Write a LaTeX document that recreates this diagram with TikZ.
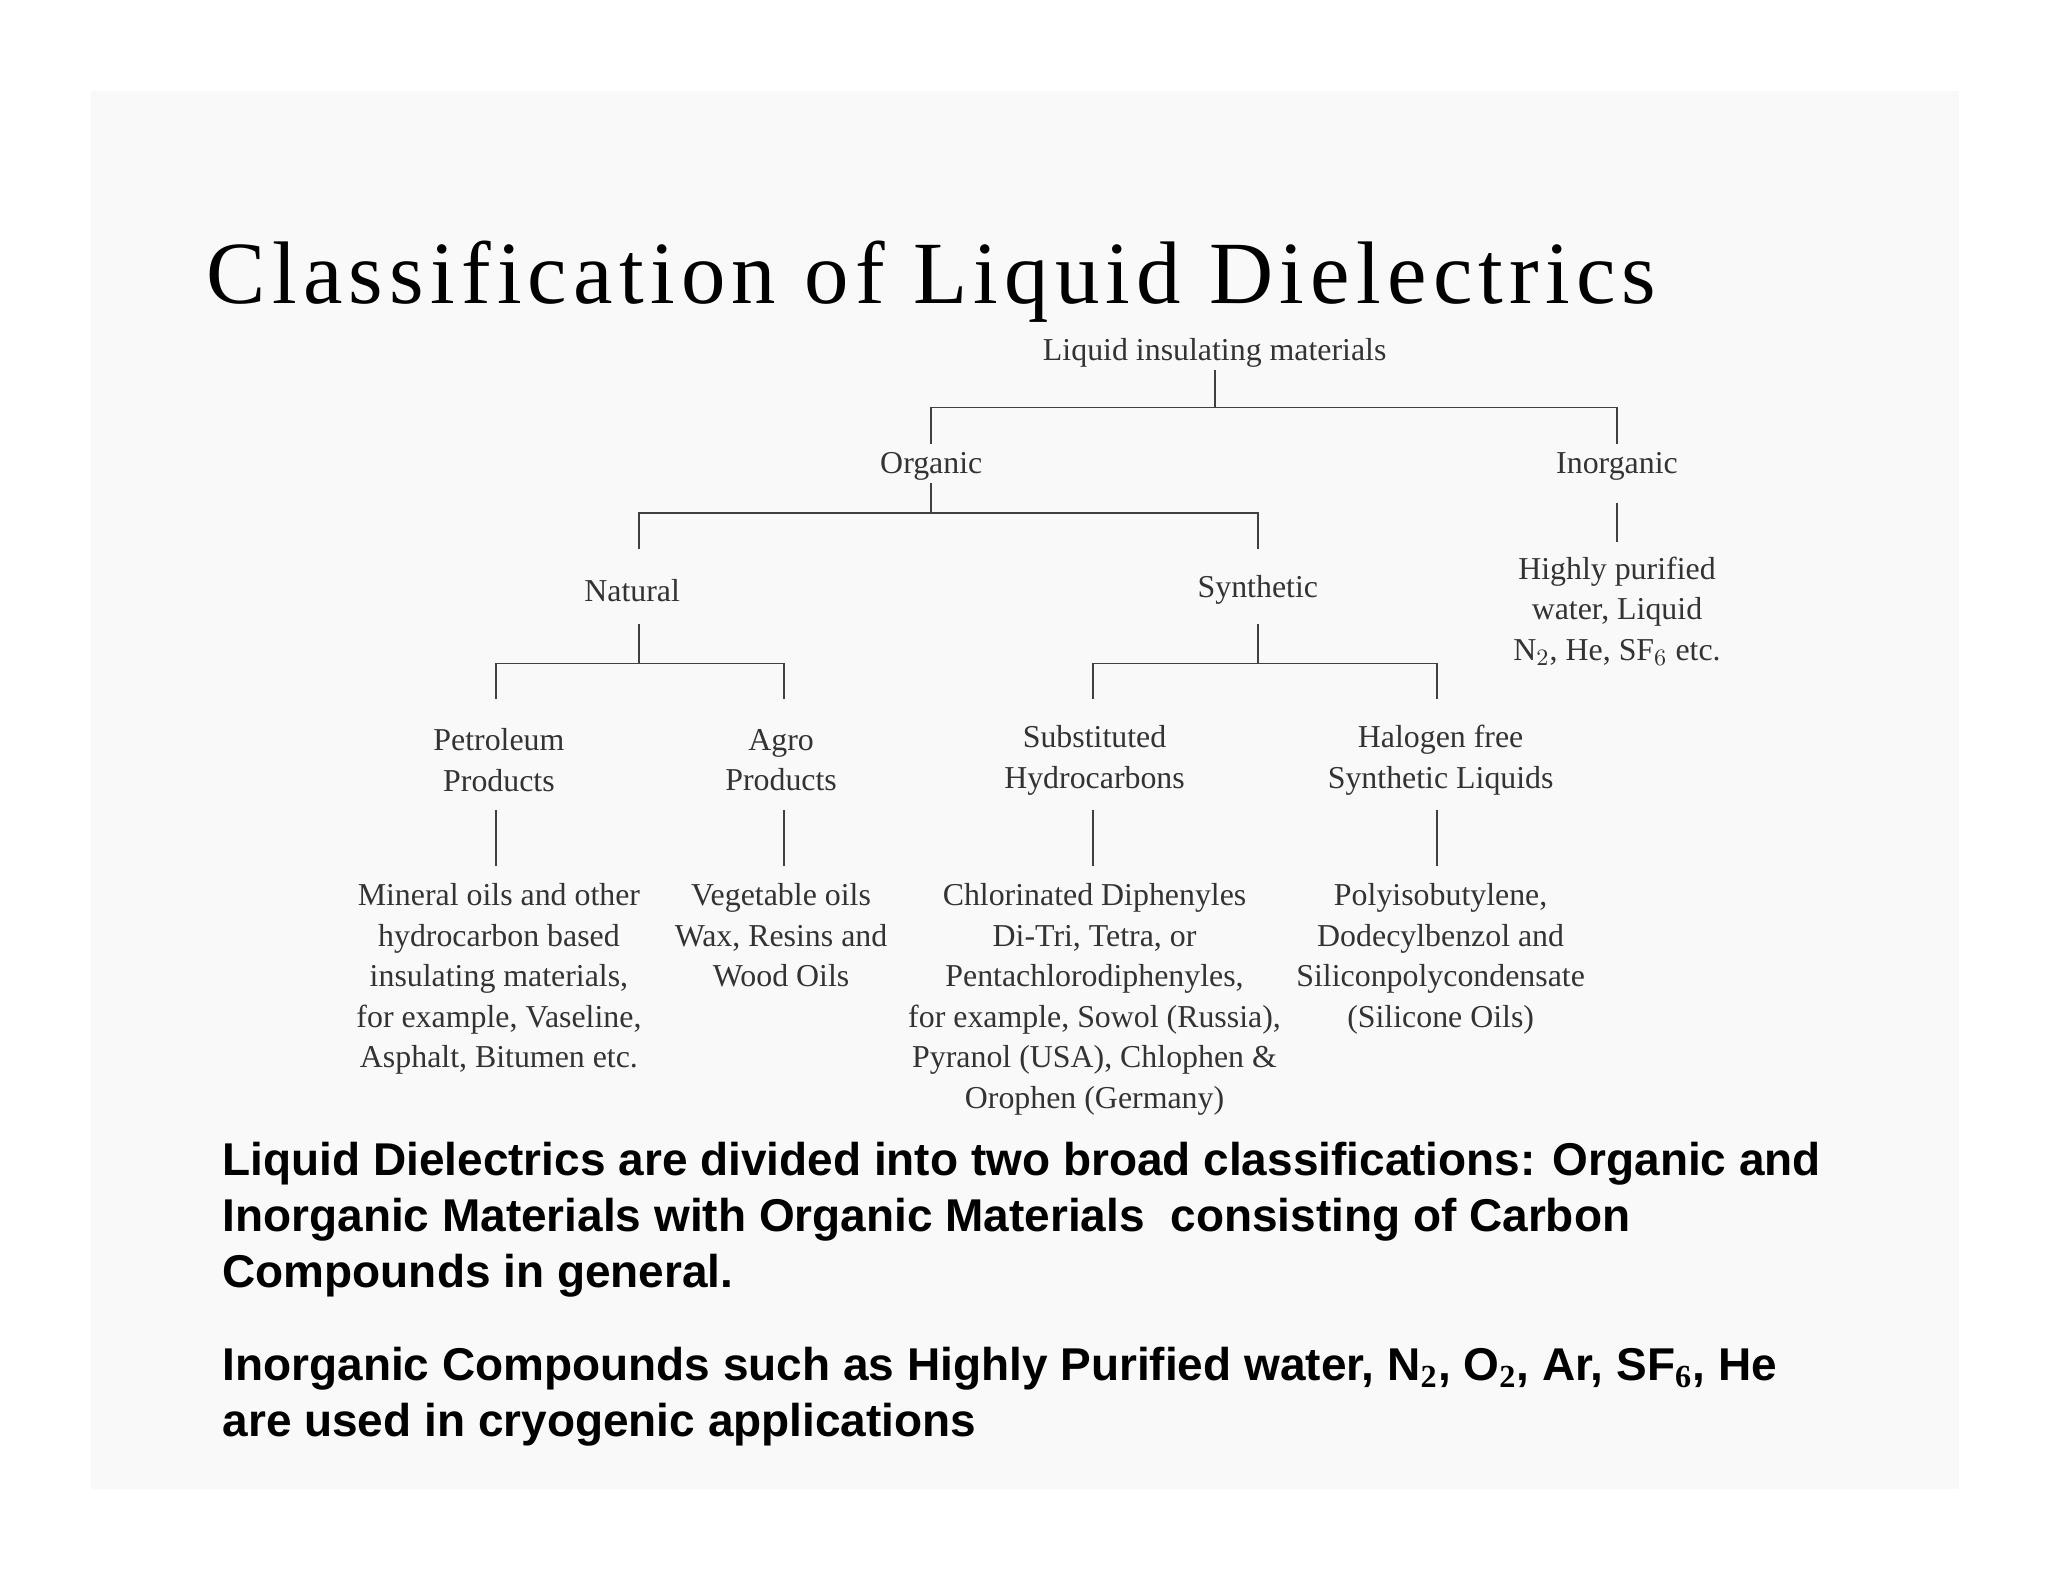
\documentclass[tikz,border=0pt]{standalone}
\usepackage{fontspec}
\setmainfont{Liberation Serif}
\setsansfont{Liberation Sans}
\newfontfamily\titlefont[LetterSpace=7]{Liberation Serif}
\begin{document}
\begin{tikzpicture}[x=0.5pt,y=-0.5pt,
  tn/.style={font=\fontsize{12.2}{15.5}\selectfont, align=center, inner sep=1pt, text=black!80},
  lf/.style={tn, anchor=north},
  ln/.style={draw=black!75, line width=0.7pt},
  body/.style={font=\sffamily\bfseries\fontsize{17.6}{21.5}\selectfont, anchor=north west, align=left, inner sep=0pt}]
\useasboundingbox (0,0) rectangle (1568,1211);
\fill[white] (0,0) rectangle (1568,1211);
\fill[black!2.5] (70,70) rectangle (1500,1140);
\node[font=\titlefont\fontsize{34}{40}\selectfont, anchor=base west, inner sep=0pt] (title) at (158,232) {Classification of Liquid Dielectrics};
\node[tn] (root) at (930,270) {Liquid insulating materials};
\node[tn] (org) at (713,357) {Organic};
\node[tn] (inorg) at (1238,357) {Inorganic};
\node[tn,anchor=north] (inleaf) at (1238,424) {Highly purified\\water, Liquid\\N$_2$, He, SF$_6$ etc.};
\node[tn] (nat) at (484,452) {Natural};
\node[tn] (syn) at (963,452) {Synthetic};
\node[tn] (pet) at (382,582) {Petroleum\\Products};
\node[tn] (agro) at (598,582) {Agro\\Products};
\node[tn] (sub) at (838,582) {Substituted\\Hydrocarbons};
\node[tn] (hal) at (1103,582) {Halogen free\\Synthetic Liquids};
\node[lf] (l1) at (382,674) {Mineral oils and other\\hydrocarbon based\\insulating materials,\\for example, Vaseline,\\Asphalt, Bitumen etc.};
\node[lf] (l2) at (598,674) {Vegetable oils\\Wax, Resins and\\Wood Oils};
\node[lf] (l3) at (838,674) {Chlorinated Diphenyles\\Di-Tri, Tetra, or\\Pentachlorodiphenyles,\\for example, Sowol (Russia),\\Pyranol (USA), Chlophen \&\\Orophen (Germany)};
\node[lf] (l4) at (1103,674) {Polyisobutylene,\\Dodecylbenzol and\\Siliconpolycondensate\\(Silicone Oils)};
% connectors
\coordinate (b1) at (0,312);
\draw[ln] (root.south) -- (root.south|-b1);
\draw[ln] (713,340) -- (713,312) -- (1238,312) -- (1238,340);
\draw[ln] (1238,385) -- (1238,415);
\coordinate (b2) at (0,393);
\draw[ln] (org.south) -- (org.south|-b2);
\draw[ln] (489,420) -- (489,393) -- (963,393) -- (963,420);
\draw[ln] (489,478) -- (489,508);
\draw[ln] (380,535) -- (380,508) -- (600,508) -- (600,535);
\draw[ln] (963,478) -- (963,508);
\draw[ln] (837,535) -- (837,508) -- (1100,508) -- (1100,535);
\foreach \x in {380,600,837,1100}{
  \draw[ln] (\x,620) -- (\x,663);
}
\node[body] (p1) at (170,874) {Liquid Dielectrics are divided into two broad classifications: Organic and\\Inorganic Materials with Organic Materials\ \ consisting of Carbon\\Compounds in general.};
\node[body] (p2) at (170,1031) {Inorganic Compounds such as Highly Purified water, N$_\mathbf{2}$, O$_\mathbf{2}$, Ar, SF$_\mathbf{6}$, He\\are used in cryogenic applications};
\end{tikzpicture}
\end{document}
